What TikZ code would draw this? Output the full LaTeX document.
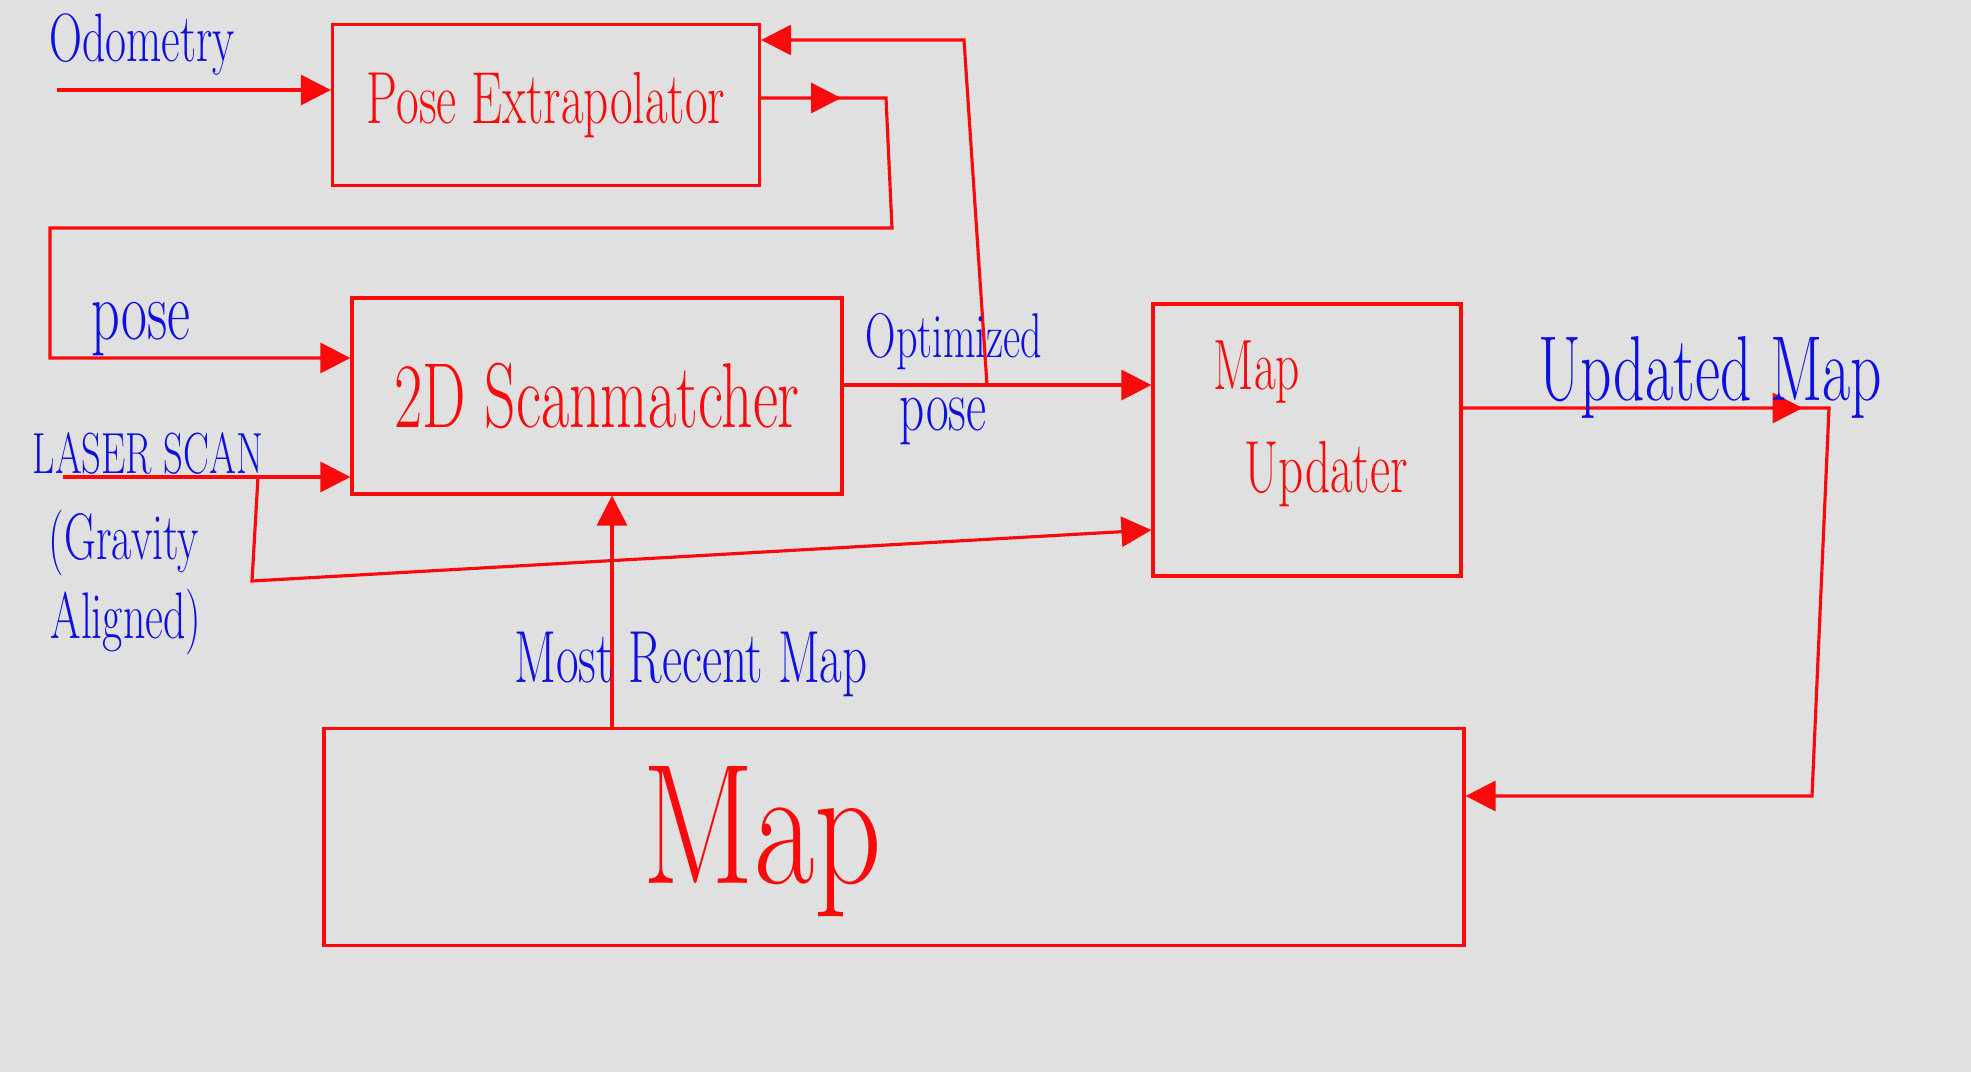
\documentclass[tikz,border=0pt]{standalone}
\usepackage{tikz}
\usepackage{graphicx}
\usetikzlibrary{arrows.meta,decorations.markings}

\definecolor{paper}{RGB}{224,224,224}
\definecolor{penred}{RGB}{250,10,10}
\definecolor{penblue}{RGB}{15,15,225}

% handwriting is tall and narrow
\newcommand{\inked}[1]{\scalebox{1}[1.5]{#1}}

\tikzset{
	block/.style={draw=penred, line width=1.8pt, inner sep=0pt, text=penred},
	flow/.style={draw=penred, line width=1.8pt, -{Triangle[length=6mm,width=6mm]}},
	midarrow/.style={postaction={decorate}, decoration={markings,
		mark=at position #1 with {\arrow{Triangle[length=6mm,width=6mm]}}}},
	lbl/.style={text=penblue, inner sep=0pt},
	redlbl/.style={text=penred, inner sep=0pt}
}

\begin{document}
\begin{tikzpicture}[x=0.2mm, y=-0.2mm]
	\fill[paper] (0,0) rectangle (1971,1072);
	\useasboundingbox (0,0) rectangle (1971,1072);
	
	% blocks
	\node[block, minimum width=85.4mm, minimum height=32.2mm,
		font=\fontsize{28pt}{32pt}\selectfont] (pe) at (546,105) {\inked{Pose Extrapolator}};
	\node[block, minimum width=98mm, minimum height=39.2mm,
		font=\fontsize{35pt}{40pt}\selectfont] (sm) at (597,396) {\inked{2D Scanmatcher}};
	\node[block, minimum width=61.6mm, minimum height=54.4mm] (mu) at (1307,440) {};
	\node[redlbl, font=\fontsize{27pt}{32pt}\selectfont] (mulbla) at (1257,372) {\inked{Map}};
	\node[redlbl, font=\fontsize{28pt}{32pt}\selectfont] (mulblb) at (1326,474) {\inked{Updater}};
	\node[block, minimum width=228mm, minimum height=43.4mm] (map) at (894,837) {};
	\node[redlbl, font=\fontsize{75pt}{80pt}\selectfont] (maplbl) at (762,842) {\scalebox{1}[1.3]{Map}};
	
	% bends
	\coordinate (odo) at (57,90);
	\coordinate (pebenda) at (886,98);
	\coordinate (pebendb) at (892,228);
	\coordinate (pebendc) at (50,228);
	\coordinate (pebendd) at (50,358);
	\coordinate (opt) at (987,385);
	\coordinate (optup) at (964,40);
	\coordinate (laser) at (63,477);
	\coordinate (laserfork) at (258,477);
	\coordinate (laserdown) at (252,581);
	\coordinate (muin) at (1100,530);
	\coordinate (updr) at (1829,408);
	\coordinate (upddown) at (1812,796);
	\coordinate (recent) at (612,700);
	
	% connectors
	\draw[flow] (odo) -- (odo -| pe.west);
	\draw[flow, midarrow=16mm] (pe.east |- pebenda) -- (pebenda) -- (pebendb) -- (pebendc) -- (pebendd) -- (pebendd -| sm.west);
	\draw[flow] (sm.east |- opt) -- (opt -| mu.west);
	\draw[flow] (opt) -- (optup) -- (optup -| pe.east);
	\draw[flow] (laser) -- (laser -| sm.west);
	\draw[flow] (laserfork) -- (laserdown) -- (muin -| mu.west);
	\draw[flow, midarrow=68mm] (mu.east |- updr) -- (updr) -- (upddown) -- (upddown -| map.east);
	\draw[flow] (map.north -| recent) -- (sm.south -| recent);
	
	% labels
	\node[lbl, font=\fontsize{26pt}{30pt}\selectfont] (odolbl) at (142,44) {\inked{Odometry}};
	\node[lbl, font=\fontsize{32pt}{36pt}\selectfont] (poselbl) at (141,329) {\inked{pose}};
	\node[lbl, font=\fontsize{22pt}{26pt}\selectfont] (laserlbl) at (148,453) {\inked{LASER SCAN}};
	\node[lbl, font=\fontsize{25pt}{30pt}\selectfont] (gravlbl) at (124,543) {\inked{(Gravity}};
	\node[lbl, font=\fontsize{25pt}{30pt}\selectfont] (alignlbl) at (126,622) {\inked{Aligned)}};
	\node[lbl, font=\fontsize{24pt}{28pt}\selectfont] (optlbl) at (954,342) {\inked{Optimized}};
	\node[lbl, font=\fontsize{28pt}{32pt}\selectfont] (optposelbl) at (943,421) {\inked{pose}};
	\node[lbl, font=\fontsize{35pt}{40pt}\selectfont] (updlbl) at (1710,377) {\inked{Updated Map}};
	\node[lbl, font=\fontsize{28pt}{32pt}\selectfont] (recentlbl) at (691,664) {\inked{Most Recent Map}};
\end{tikzpicture}
\end{document}
